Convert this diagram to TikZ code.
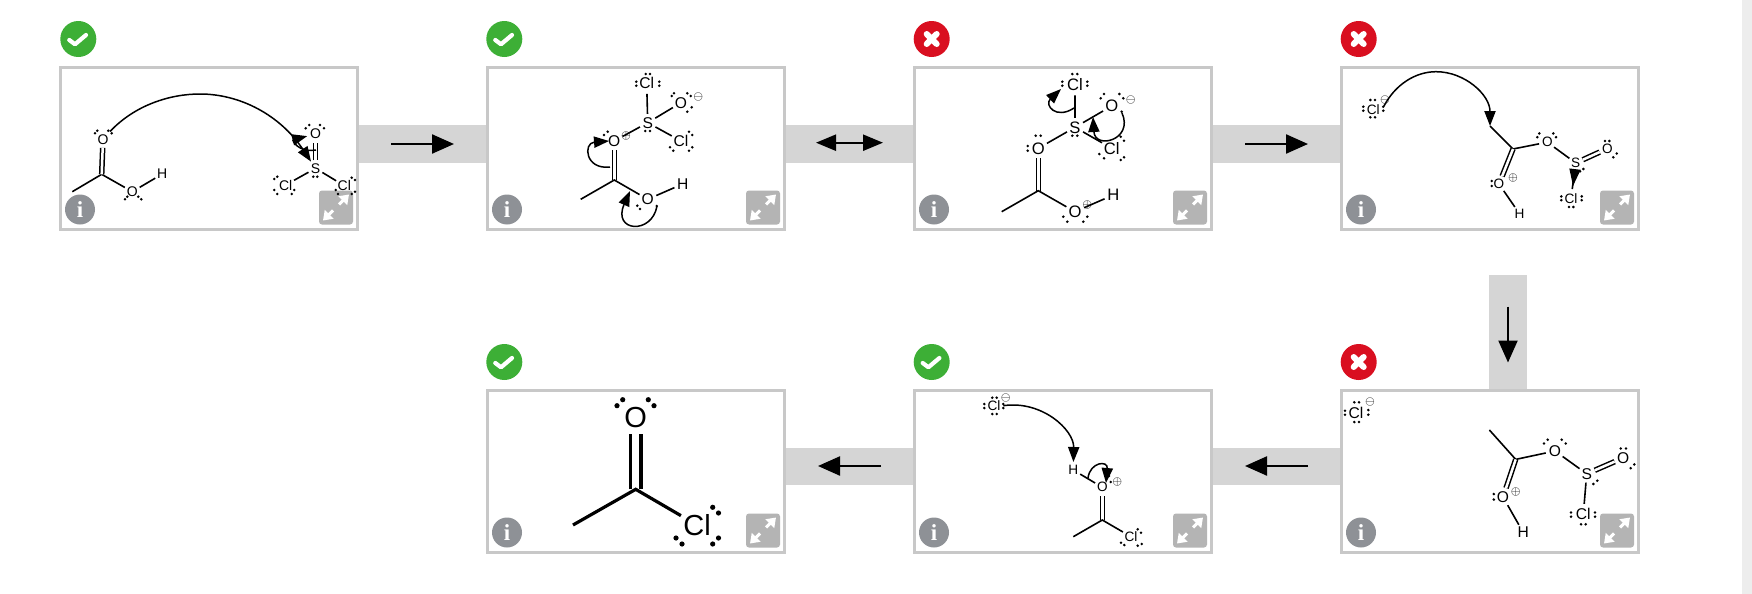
\documentclass[tikz,border=0pt]{standalone}
\usepackage{fontspec}
\setmainfont{Liberation Sans}
\newfontfamily\iconfont{Liberation Serif}
\usetikzlibrary{arrows.meta}
\definecolor{framegray}{HTML}{C8C8C8}
\definecolor{stripgray}{HTML}{D5D5D5}
\definecolor{infogray}{HTML}{8E9196}
\definecolor{expandgray}{HTML}{B4B4B4}
\definecolor{okgreen}{HTML}{3DAF36}
\definecolor{badred}{HTML}{D90F20}
\newcommand{\lonep}[1]{\foreach \a/\b in {#1} \fill (\a,\b) circle (0.72pt);}
\tikzset{
	panel/.style={draw=framegray,line width=1.5pt,fill=white,minimum width=148.5pt,minimum height=81pt,inner sep=0pt},
	strip/.style={fill=stripgray,inner sep=0pt},
	flow/.style={draw,line width=1.15pt,shorten <=16pt,shorten >=16pt,-{Triangle[length=11pt,width=9.5pt]}},
	flowboth/.style={draw,line width=1.15pt,shorten <=15pt,shorten >=15pt,{Triangle[length=10pt,width=8pt]}-{Triangle[length=10pt,width=8pt]}},
	badge/.style={circle,inner sep=0pt,minimum size=18pt},
	infoicon/.style={circle,fill=infogray,text=white,inner sep=0pt,minimum size=15pt,font=\iconfont\bfseries\fontsize{11.5}{11.5}\selectfont},
	expandicon/.style={fill=expandgray,rounded corners=1.5pt,inner sep=0pt,minimum size=17pt},
	atom/.style={circle,inner sep=0.3pt,font=\fontsize{#1}{#1}\selectfont},
	atom/.default=7,
	charge/.style={inner sep=0pt,text=black!85,font=\fontsize{5}{5}\selectfont},
	bond/.style={draw,line width=.8pt},
	dblbond/.style={draw,line width=.75pt,double,double distance=1.25pt},
	curly/.style={draw,line width=.75pt,-{Triangle[length=7.5pt,width=5.6pt]}}
}
\begin{document}
\begin{tikzpicture}[x=0.5pt,y=-0.5pt]
	\useasboundingbox (0,0) rectangle (1752,594);
	\fill[black!7] (1742,0) rectangle (1752,594);
	\node[strip,minimum width=65pt,minimum height=19pt] (sa) at (422.5,144) {};
	\node[strip,minimum width=65pt,minimum height=19pt] (sb) at (849.5,144) {};
	\node[strip,minimum width=65pt,minimum height=19pt] (sc) at (1276.5,144) {};
	\node[strip,minimum width=19pt,minimum height=57pt] (sd) at (1508,332) {};
	\node[strip,minimum width=65pt,minimum height=18.5pt] (se) at (1276.5,466) {};
	\node[strip,minimum width=65pt,minimum height=18.5pt] (sf) at (849.5,466) {};
	\foreach \n/\x/\y in {a/209/148,b/636/148,c/1063/148,d/1490/148,e/1490/471,f/1063/471,g/636/471}{
		\node[panel] (\n) at (\x,\y) {};
		\node[infoicon] (\n info) at (\x-129,\y+61.5) {i};
		\node[expandicon] (\n expand) at (\x+127,\y+59.5) {};
		\draw[white,line width=1.5pt,-{Triangle[length=4.4pt,width=6pt]}] (\x+130,\y+56.5) -- (\x+140,\y+46.5);
		\draw[white,line width=1.5pt,-{Triangle[length=4.4pt,width=6pt]}] (\x+124,\y+62.5) -- (\x+114,\y+72.5);
	}
	\foreach \n/\x/\y in {oka/78.3/39,okb/504.3/39,oke/931.7/362,okf/504.3/362}{
		\node[badge,fill=okgreen] (\n) at (\x,\y) {};
		\draw[white,line width=2.1pt,line cap=round,line join=round] (\x-9,\y+1) -- (\x-3.3,\y+5.3) -- (\x+7.7,\y-4);
	}
	\foreach \n/\x/\y in {noa/931.7/39,nob/1358.7/39,noc/1358.7/362}{
		\node[badge,fill=badred] (\n) at (\x,\y) {};
		\draw[white,line width=3pt,line cap=round] (\x-5,\y-5) -- (\x+5,\y+5);
		\draw[white,line width=3pt,line cap=round] (\x-5,\y+5) -- (\x+5,\y-5);
	}
	\draw[flow] (a.east |- sa) -- (b.west |- sa);
	\draw[flowboth] (b.east |- 0,142.7) -- (c.west |- 0,142.7);
	\draw[flow] (c.east |- sc) -- (d.west |- sc);
	\draw[line width=1.15pt,shorten <=38pt,shorten >=13pt,-{Triangle[length=11pt,width=9.5pt]}] (d.south -| sd) -- (e.north -| sd);
	\draw[flow] (e.west |- se) -- (f.east |- se);
	\draw[flow] (f.west |- sf) -- (g.east |- sf);

	\coordinate (aMe) at (72.3,191.7);
	\coordinate (aC) at (101.7,174.3);
	\node[atom=7] (aO) at (103,139.3) {O};
	\node[atom=7] (aOb) at (132.3,191.7) {O};
	\node[atom=7] (aH) at (162.3,174) {H};
	\node[atom=7] (aS) at (315.5,168.3) {S};
	\node[atom=7] (aOc) at (315.5,134) {O};
	\node[atom=7] (aCl) at (285.7,185) {Cl};
	\node[atom=7] (aClb) at (344.3,185.7) {Cl};
	\draw[bond] (aMe) -- (aC) -- (aOb) -- (aH);
	\draw[dblbond] (aC) -- (aO);
	\draw[dblbond] (aS) -- (aOc);
	\draw[bond] (aCl) -- (aS) -- (aClb);
	\lonep{95/133.3,97.3/130.7,108.3/130.7,111.7/133.3,125/199.3,127.3/196.7,138.3/196.7,141.3/199.3}
	\lonep{305.7/128.3,309.3/125,320/125,324/128.3,313.3/176.7,317.3/176.7}
	\lonep{274.3/179,277.3/176.7,274.3/190,277.3/194,291.7/194,294.3/190}
	\lonep{351.7/177.7,355/180,355/191.7,351.7/194,338/194,335.7/190}
	\draw[curly] (110,131.5) .. controls (135,105) and (170,94) .. (200,94) .. controls (240,94) and (280,115) .. (aS);
	\draw[curly] (316,150) .. controls (298,153) and (292,140) .. (aOc);

	\node[atom=7.8] (bCl) at (646.7,83.3) {Cl};
	\node[atom=7.8] (bS) at (647.7,122.7) {S};
	\node[atom=7.8] (bOa) at (681,102.7) {O};
	\node[charge] (bMinus) at (698.3,97.3) {$\ominus$};
	\node[atom=7.8] (bClb) at (681,141) {Cl};
	\node[atom=7.8] (bOb) at (614.3,141) {O};
	\node[charge] (bPlus) at (626,136) {$\oplus$};
	\coordinate (bC) at (614.3,180);
	\coordinate (bMe) at (580.7,199.3);
	\node[atom=7.8] (bOc) at (647.7,199.3) {O};
	\node[atom=7.8] (bH) at (682.7,184) {H};
	\draw[bond] (bCl) -- (bS) -- (bOa);
	\draw[bond] (bClb) -- (bS) -- (bOb);
	\draw[dblbond] (bC) -- (bOb);
	\draw[bond] (bMe) -- (bC) -- (bOc) -- (bH);
	\lonep{645.7/74,650/74,636.3/81.7,636.3/85.7,659.3/81.7,659.3/85.7,645.3/131,650/131}
	\lonep{671.7/96,674/93.3,687.3/93.3,690.7/96,691.7/107.3,687.3/111.7}
	\lonep{689/131.7,692.3/135,692.3/147.3,689/150.7,673.3/150.7,670/147.3}
	\lonep{604/135,607.7/131.7,637.3/205.7,640/209,656.7/206}
	\draw[curly] (657,206) .. controls (652,235) and (612,232) .. (630,191);
	\draw[curly] (610,167) .. controls (585,170) and (583,143) .. (609,141);

	\node[atom=8.3] (cCl) at (1075,84.3) {Cl};
	\node[atom=8.3] (cS) at (1075,127.3) {S};
	\node[atom=8.3] (cOa) at (1111.7,106) {O};
	\node[charge] (cMinus) at (1130.7,100) {$\ominus$};
	\node[atom=8.3] (cClb) at (1111.7,148.3) {Cl};
	\node[atom=8.3] (cOb) at (1038.3,148.3) {O};
	\coordinate (cC) at (1038.3,190.7);
	\coordinate (cMe) at (1001.7,211.7);
	\node[atom=8.3] (cOc) at (1075,211.7) {O};
	\node[charge] (cPlus) at (1087.3,205) {$\oplus$};
	\node[atom=8.3] (cH) at (1113.3,195) {H};
	\draw[bond] (cCl) -- (cS) -- (cOa);
	\draw[bond] (cClb) -- (cS) -- (cOb);
	\draw[dblbond] (cC) -- (cOb);
	\draw[bond] (cMe) -- (cC) -- (cOc) -- (cH);
	\lonep{1072.3/74,1077.3/74,1062.3/81.7,1062.3/85.7,1087.3/81.7,1087.3/85.7,1072.3/135.7,1077.3/135.7}
	\lonep{1100.7/98.3,1104/94,1119.3/94,1123.3/98.3,1121.7/111.7}
	\lonep{1120.7/136.7,1124/140.7,1124/157.3,1120.7/160,1104/158.3,1099.3/154}
	\lonep{1035.7/135.7,1040.7/135.7,1027.7/146,1027.7/150.7,1063.3/216.7,1067.3/221.7,1083.3/221.7,1087.3/216.7}
	\draw[curly] (1074,108) .. controls (1056,120) and (1044,105) .. (1061,89);
	\draw[curly] (1122,113) .. controls (1134,140) and (1095,150) .. (1093,117);

	\node[atom=6.8] (dCl) at (1373.3,109.3) {Cl};
	\node[charge] (dMinus) at (1385,100) {$\ominus$};
	\coordinate (dMe) at (1490,126);
	\coordinate (dC) at (1513,149);
	\node[atom=6.8] (dOa) at (1499,184) {O};
	\node[charge] (dPlus) at (1513,178) {$\oplus$};
	\node[atom=6.8] (dH) at (1519.4,213.6) {H};
	\node[atom=6.8] (dOb) at (1547.3,142.2) {O};
	\node[atom=6.8] (dS) at (1575.7,163) {S};
	\node[atom=6.8] (dOc) at (1607.3,148.6) {O};
	\node[atom=6.8] (dClb) at (1571,198.3) {Cl};
	\draw[bond] (dMe) -- (dC) -- (dOb) -- (dS) -- (dClb);
	\draw[dblbond] (dC) -- (dOa);
	\draw[bond] (dOa) -- (dH);
	\draw[dblbond] (dS) -- (dOc);
	\lonep{1363.3/106.7,1363.3/110.7,1370.3/100,1375/100,1370.3/117.3,1375/117.3,1383.3/106.7,1383.3/110.7}
	\lonep{1491.7/181,1491.7/186,1537.3/137.2,1539.3/133.4,1553.3/133.4,1556/137.2,1580/171.3,1583.3/169}
	\lonep{1605/141,1609.3/141,1613.3/157.3,1616.7/153.5,1561.3/196.4,1561.3/200.2,1581.7/196.4,1581.7/200.2,1569/207,1573.3/207}
	\draw[curly] (1384,106) .. controls (1395,85) and (1415,71.7) .. (1436,71.7) .. controls (1465,71.7) and (1490,95) .. (dMe);
	\draw[line width=.75pt,-{Triangle[length=8.5pt,width=5.5pt]}] (dS) -- (1573,186);

	\node[atom=7.8] (eCl) at (1356,412.7) {Cl};
	\node[charge] (eMinus) at (1370,402.3) {$\ominus$};
	\coordinate (eMe) at (1489.4,430);
	\coordinate (eC) at (1515.7,459.4);
	\node[atom=7.8] (eOa) at (1503,497) {O};
	\node[charge] (ePlus) at (1515.7,491.7) {$\oplus$};
	\node[atom=7.8] (eH) at (1523.3,532.6) {H};
	\node[atom=7.8] (eOb) at (1555,451) {O};
	\node[atom=7.8] (eS) at (1586.7,473.8) {S};
	\node[atom=7.8] (eOc) at (1623.3,457.9) {O};
	\node[atom=7.8] (eClb) at (1583.3,514.4) {Cl};
	\draw[bond] (eMe) -- (eC) -- (eOb) -- (eS) -- (eClb);
	\draw[dblbond] (eC) -- (eOa);
	\draw[bond] (eOa) -- (eH);
	\draw[dblbond] (eS) -- (eOc);
	\lonep{1345/410.7,1345/414.7,1354.3/402.3,1359/402.3,1354.3/422,1359/422,1368.3/410,1368.3/414.7}
	\lonep{1493.8/494,1493.8/499.5,1544/443.5,1547.7/439.7,1561.7/439.7,1565.7/443.5,1593.3/484,1597.3/480.7}
	\lonep{1620.7/448.5,1626/448.5,1630.7/468.2,1634.3/464.4,1571/512.5,1571/516.7,1595/512.5,1595/516.7,1581/524.3,1585.7/524.3}

	\node[atom=6.8] (fCl) at (994,406) {Cl};
	\node[charge] (fMinus) at (1005.7,397.7) {$\ominus$};
	\node[atom=6.8] (fH) at (1073.3,470) {H};
	\node[atom=6.8] (fO) at (1102.3,487.3) {O};
	\node[charge] (fPlus) at (1117.3,482.3) {$\oplus$};
	\coordinate (fC) at (1102.3,520);
	\coordinate (fMe) at (1073.3,536.7);
	\node[atom=6.8] (fClb) at (1131,536.7) {Cl};
	\draw[bond] (fH) -- (fO);
	\draw[dblbond] (fC) -- (fO);
	\draw[bond] (fMe) -- (fC) -- (fClb);
	\lonep{984.3/404,984.3/408,992.3/397.7,996.7/397.7,992.3/414,996.7/414,1003.3/404,1003.3/408}
	\lonep{1109/476,1110.7/482,1137.7/529.3,1141/532.7,1141.7/544,1137.7/545.7,1124.3/545,1121/542.7}
	\draw[curly] (1003.3,405.7) .. controls (1042,400) and (1074,430) .. (fH);
	\draw[curly] (1088,478) .. controls (1090,462) and (1108,460) .. (1106,483);

	\node[atom=14.5] (gO) at (635.7,417.3) {O};
	\coordinate (gC) at (635.7,489.3);
	\coordinate (gMe) at (573,525);
	\node[atom=14.5] (gCl) at (697,525) {Cl};
	\draw[line width=1.6pt,double,double distance=3.7pt] (gC) -- (gO);
	\draw[line width=1.6pt] (gMe) -- (gC) -- (gCl);
	\foreach \a/\b in {617/405.7,622.7/399.7,648.3/399.7,654/405.7,712.7/507.3,718.5/513,718.5/538,712.7/544,682/544,676/538}
		\fill (\a,\b) circle (1.3pt);
\end{tikzpicture}
\end{document}
